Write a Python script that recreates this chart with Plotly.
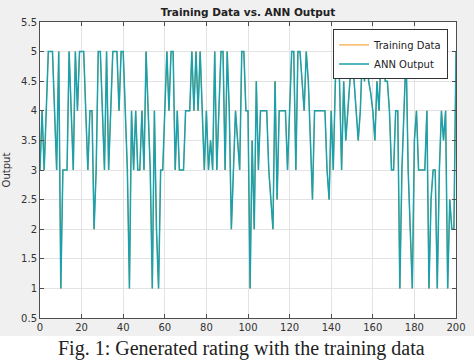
import plotly.graph_objects as go

sample_index = list(range(201))
training_data = [
    3, 4, 3, 4, 5, 5, 5, 4, 3, 5,
    1, 3, 3, 3, 5, 4, 3, 5, 4, 5,
    5, 5, 4, 3, 4, 4, 2, 3, 5, 5,
    4, 3, 5, 3, 4, 5, 5, 5, 4, 5,
    5, 4, 3, 1, 4, 3, 4, 3, 3, 4,
    3, 5, 4, 3, 1, 4, 2, 1, 3, 3,
    4, 5, 4, 5, 5, 3, 4, 3, 3, 3,
    4, 4, 4, 5, 4, 5, 4, 5, 4, 3,
    4, 3, 3.5, 3, 5, 3, 4, 5, 5, 3,
    5, 4, 2, 3, 4, 3.5, 3, 5, 5, 4,
    4, 1, 3.5, 2, 4.5, 3, 4, 4, 4, 4,
    3, 2.5, 2, 4.5, 2.5, 4, 4, 4, 4, 3,
    4, 5, 5, 3, 5, 5, 4.5, 4, 5, 4.5,
    3.5, 2.5, 4, 4, 4, 4, 4, 4, 3, 2.5,
    4, 3, 4.5, 5, 4.5, 3, 4.5, 3.5, 4, 4.5,
    5, 4.5, 4, 3.5, 4, 5, 4.5, 5, 4.5, 4.3,
    4, 3.5, 4.5, 4, 5, 5, 4.5, 4.5, 4, 3,
    3, 4, 4, 1, 3, 4, 5, 3, 2, 1,
    3.5, 4, 3, 3, 3, 3, 4, 1, 2.5, 3,
    3, 1, 3, 4, 3.5, 4, 1, 2.5, 2, 2,
    5,
]
ann_output = list(training_data)

y_ticks = [0.5, 1, 1.5, 2, 2.5, 3, 3.5, 4, 4.5, 5, 5.5]
y_tick_labels = ["0.5", "1", "1.5", "2", "2.5", "3", "3.5", "4", "4.5", "5", "5.5"]
x_ticks = [0, 20, 40, 60, 80, 100, 120, 140, 160, 180, 200]

fig = go.Figure()
fig.add_trace(go.Scatter(x=sample_index, y=training_data, mode="lines",
                         name="Training Data", line=dict(color="#f7941d", width=1)))
fig.add_trace(go.Scatter(x=sample_index, y=ann_output, mode="lines",
                         name="ANN Output", line=dict(color="#1ba1ad", width=1.5)))

L, R, T, B = 40, 18, 22, 43
W, H = 474, 361
pw, ph = W - L - R, H - T - B

axis_common = dict(showgrid=True, gridcolor="#e3e3e3", gridwidth=1,
                   showline=True, linecolor="#4d4d4d", linewidth=1, mirror="ticks",
                   ticks="inside", ticklen=4, tickcolor="#4d4d4d",
                   tickfont=dict(family="DejaVu Sans", size=10, color="#333333"),
                   zeroline=False, automargin=False)

fig.update_layout(
    width=W, height=H,
    margin=dict(l=L, r=R, t=T, b=B, pad=0, autoexpand=False),
    paper_bgcolor="#f0f0f0", plot_bgcolor="white",
    title=dict(text="<b>Training Data vs. ANN Output</b>", x=(248 - L) / pw, xref="paper",
               xanchor="center", y=1 - 12 / H, yanchor="middle",
               font=dict(family="DejaVu Sans", size=10.5, color="#222222")),
    xaxis=dict(range=[0, 200], tickvals=x_ticks, **axis_common),
    yaxis=dict(range=[0.5, 5.5], tickvals=y_ticks, ticktext=y_tick_labels,
               title=dict(text="Output", standoff=8,
                          font=dict(family="DejaVu Sans", size=10, color="#333333")),
               **axis_common),
    legend=dict(x=0.981, y=0.975, xanchor="right", yanchor="top",
                bgcolor="white", bordercolor="#333333", borderwidth=1,
                font=dict(family="DejaVu Sans", size=10, color="#222222"),
                itemwidth=30, tracegroupgap=0),
    showlegend=True,
    shapes=[dict(type="rect", xref="paper", yref="paper",
                 x0=-L / pw - 0.01, x1=1 + R / pw + 0.01,
                 y0=-B / ph - 0.01, y1=-18 / ph,
                 fillcolor="white", line=dict(width=0), layer="below")],
    annotations=[dict(text="Fig. 1: Generated rating with the training data",
                      xref="paper", yref="paper", x=(241 - L) / pw, y=-B / ph,
                      xanchor="center", yanchor="bottom", showarrow=False, borderpad=0,
                      font=dict(family="Liberation Serif", size=20, color="#222222"))],
)

fig.write_html("out.html", config={"displayModeBar": False},
               post_script="document.body.style.margin='0';")
